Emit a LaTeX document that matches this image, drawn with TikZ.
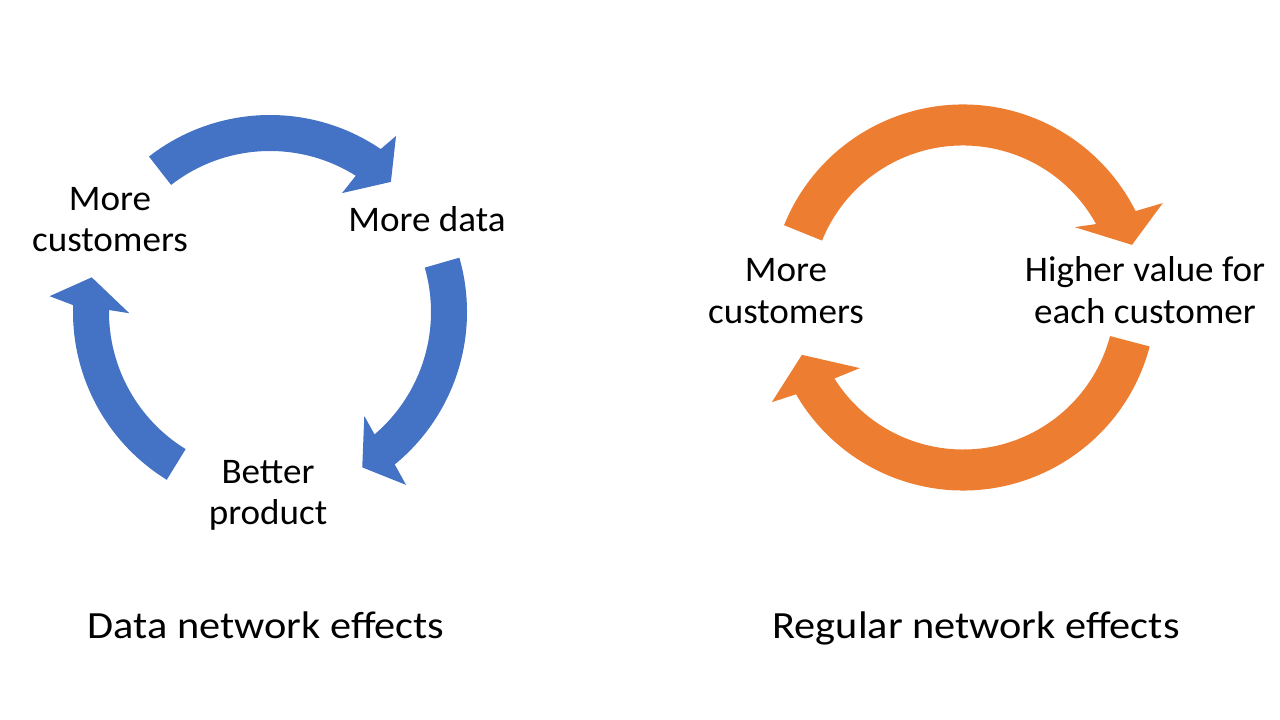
\documentclass[tikz,border=0pt]{standalone}
\usepackage{fontspec}
\setmainfont{Carlito}
\newfontfamily\steptextfont{Carlito}[FakeStretch=1.03]
\newfontfamily\titletextfont{Carlito}[FakeStretch=1.1]
\usepackage{tikz}
\definecolor{loopblue}{RGB}{68, 114, 196}
\definecolor{looporange}{RGB}{237, 125, 49}

\begin{document}
\begin{tikzpicture}[
    x=1pt, y=1pt,
    step_txt/.style={font=\steptextfont\fontsize{36}{41.5}\selectfont, align=center, anchor=base, inner sep=0pt},
    title_txt/.style={font=\titletextfont\fontsize{38.5}{46}\selectfont, anchor=base, inner sep=0pt},
    data_arrow/.style={fill=loopblue},
    regular_arrow/.style={fill=looporange}
]
    % Page
    \useasboundingbox (0, 0) rectangle (1280, 720);

    % Data loop
    \begin{scope}[shift={(270, 408)}]
        \fill[data_arrow] (127.9:197) arc[start angle=127.9, end angle=55.8, radius=197]
            -- (54.4:216.5) -- (47.1:177.6) -- (58.8:139) -- (57.8:161)
            arc[start angle=57.8, end angle=127.9, radius=161] -- cycle;
        \fill[data_arrow] (16:197) arc[start angle=16, end angle=-50.7, radius=197]
            -- (-51.8:220) -- (-59.3:180.7) -- (-47.8:140.4) -- (-49.5:161)
            arc[start angle=-49.5, end angle=16, radius=161] -- cycle;
        \fill[data_arrow] (238.4:197) arc[start angle=238.4, end angle=178, radius=197]
            -- (175.9:221) -- (169:181.6) -- (180.5:140.7) -- (179.3:161)
            arc[start angle=179.3, end angle=238.4, radius=161] -- cycle;
    \end{scope}

    % Regular loop
    \begin{scope}[shift={(963, 422.5)}]
        \fill[regular_arrow] (158:193) arc[start angle=158, end angle=26.6, radius=193]
            -- (25.3:221) -- (17.3:177) -- (32.2:132) -- (28.9:152)
            arc[start angle=28.9, end angle=158, radius=152] -- cycle;
        \fill[regular_arrow] (-14.7:193) arc[start angle=-14.7, end angle=-149.9, radius=193]
            -- (-151.3:218) -- (-160.4:171) -- (-145.6:125) -- (-147.8:152)
            arc[start angle=-147.8, end angle=-14.7, radius=152] -- cycle;
    \end{scope}

    % Labels, data loop (base = last line)
    \node[step_txt] (data_cust) at (110, 468) {More\\customers};
    \node[step_txt] (data_more) at (427, 488.3) {More data};
    \node[step_txt] (data_prod) at (268, 195) {Better\\product};

    % Labels, regular loop
    \node[step_txt] (reg_cust) at (786, 396.7) {More\\customers};
    \node[step_txt] (reg_value) at (1145, 396.7) {Higher value for\\each customer};

    % Titles
    \node[title_txt] (data_title) at (266, 81) {Data network effects};
    \node[title_txt] (reg_title) at (976, 81) {Regular network effects};

\end{tikzpicture}
\end{document}
